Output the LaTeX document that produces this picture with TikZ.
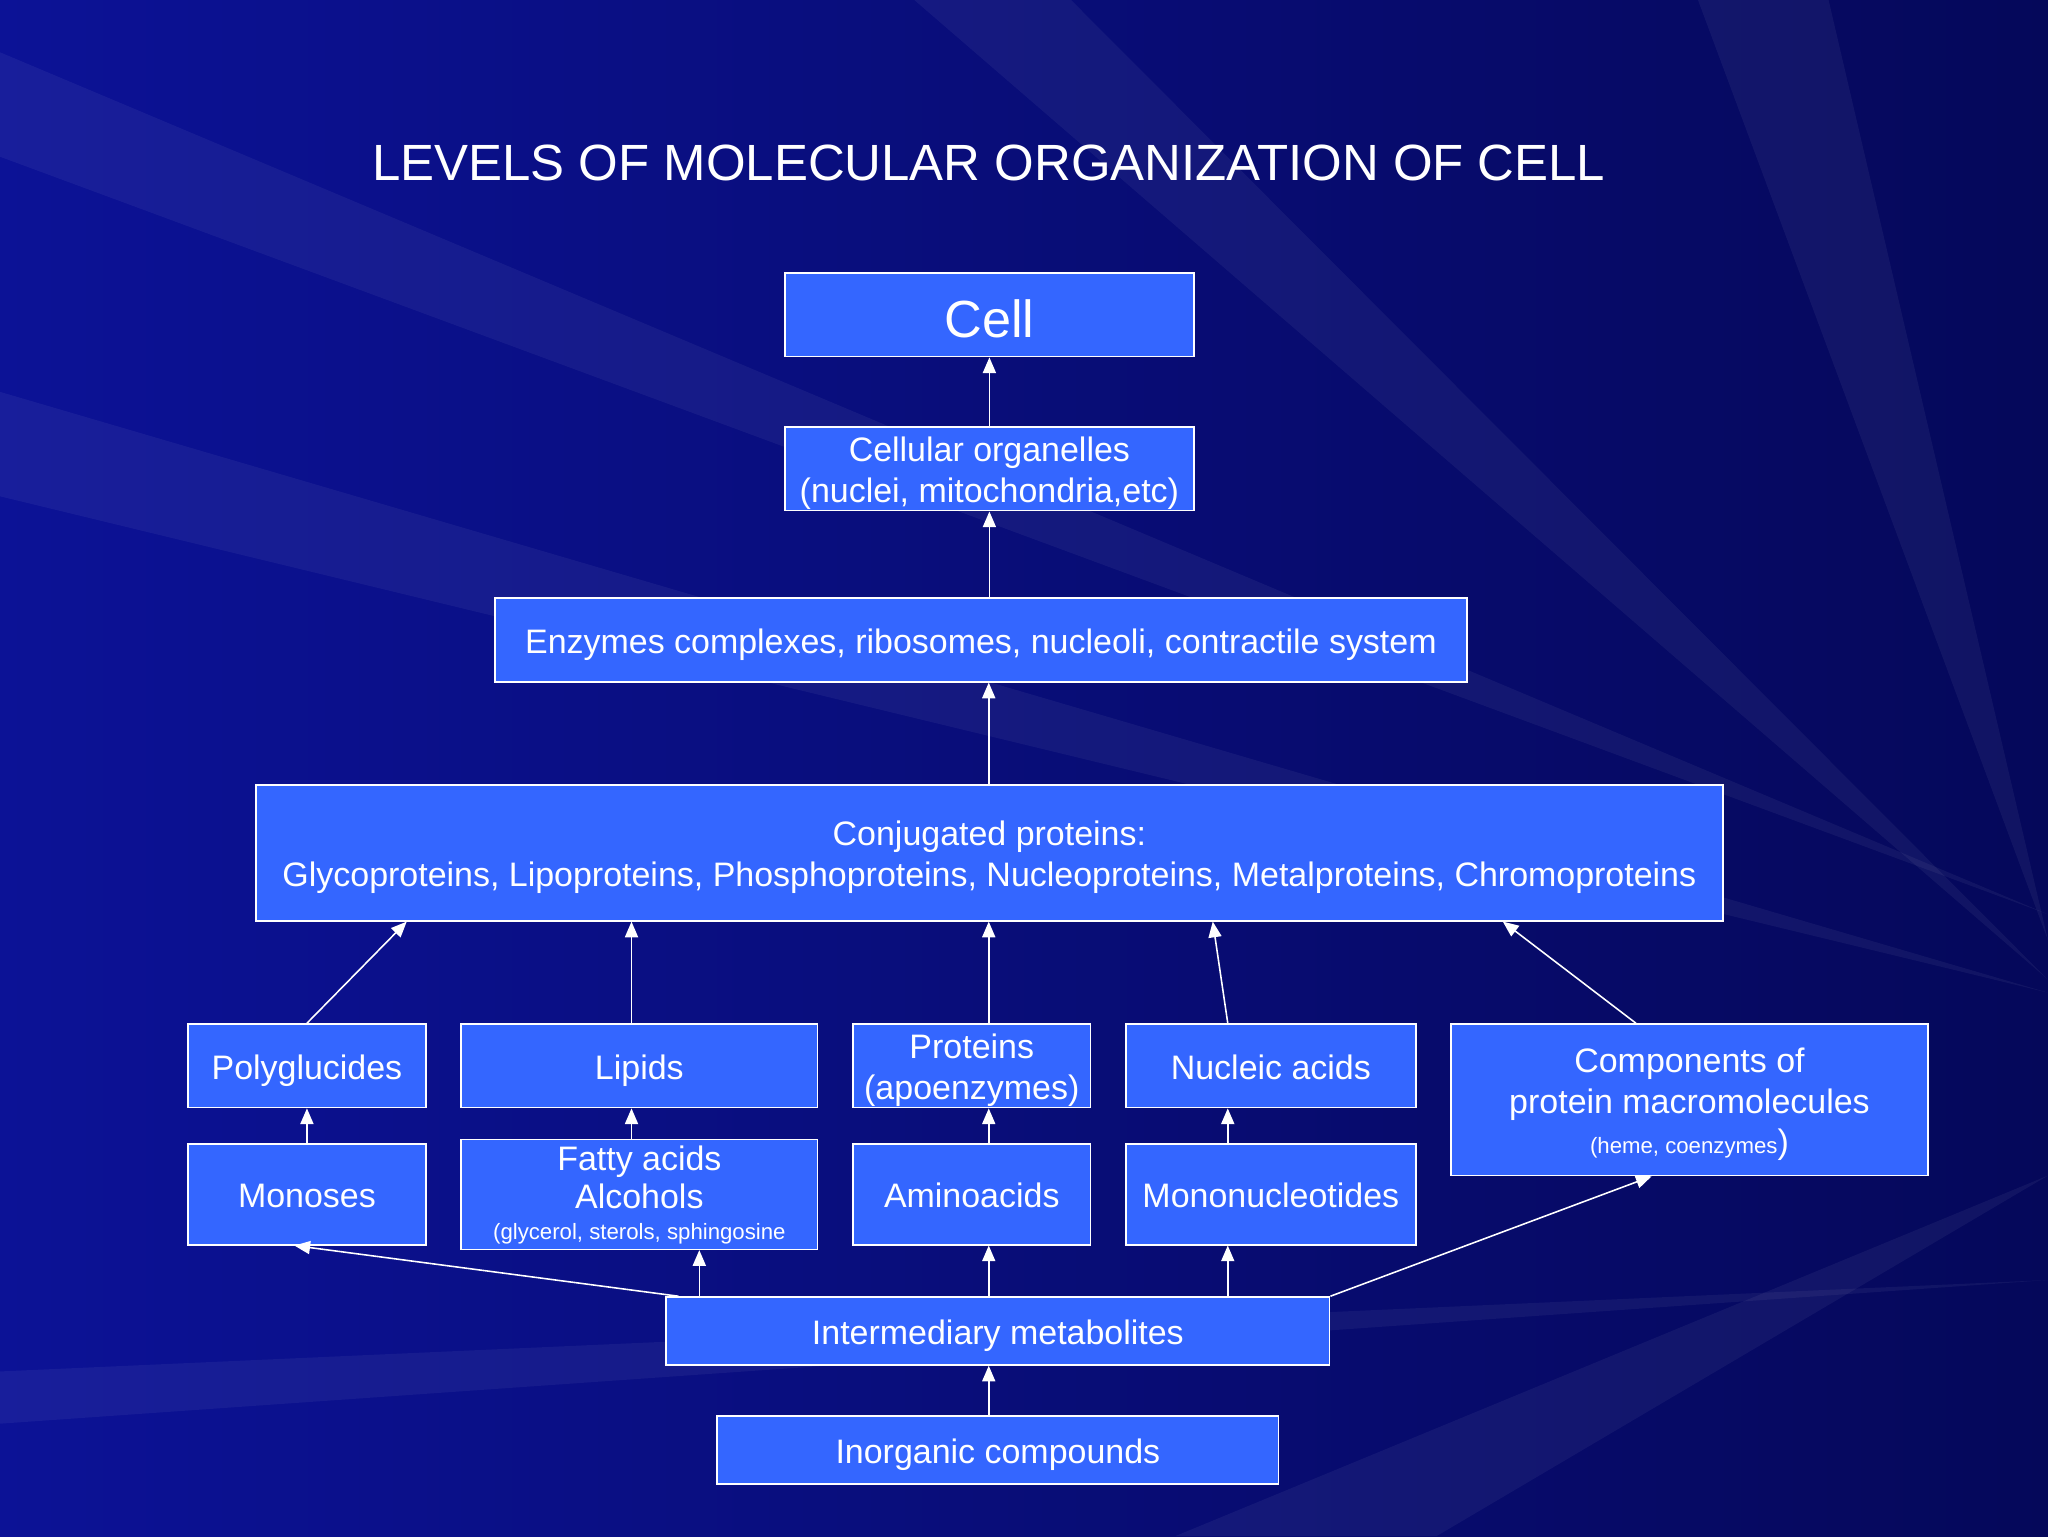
\documentclass[tikz,border=0pt]{standalone}
\usepackage{fontspec}
\setmainfont{Liberation Sans}
\usetikzlibrary{arrows.meta}
\definecolor{bg}{RGB}{12,18,150}
\definecolor{bgd}{RGB}{5,8,90}
\definecolor{boxc}{RGB}{52,102,255}
\begin{document}
\begin{tikzpicture}[x=1pt,y=-1pt,
 box/.style={draw=white,line width=1.2pt,fill=boxc,text=white,align=center,inner sep=0pt},
 arr/.style={draw=white,line width=1.2pt,-{Triangle[length=12pt,width=10pt]}}]
\useasboundingbox (0,0) rectangle (1568,1176);
\shade[left color=bg,right color=bgd] (0,0) rectangle (1568,1176);
\begin{scope}[opacity=0.05]
\fill[white] (1568,700) -- (0,40) -- (0,120) -- cycle;
\fill[white] (1568,760) -- (0,300) -- (0,380) -- cycle;
\fill[white] (1568,900) -- (900,1176) -- (1100,1176) -- cycle;
\fill[white] (1568,980) -- (0,1050) -- (0,1090) -- cycle;
\fill[white] (1568,720) -- (1300,0) -- (1400,0) -- cycle;
\fill[white] (1568,750) -- (700,0) -- (820,0) -- cycle;
\end{scope}
\node[text=white,font=\fontsize{39}{44}\selectfont] (title) at (757,125) {LEVELS OF MOLECULAR ORGANIZATION OF CELL};
\newcommand{\bx}[6]{\node[box,minimum width=#4-#3,minimum height=#6-#5,font=\fontsize{26}{31}\selectfont] (#1) at ({(#3+#4)/2},{(#5+#6)/2}) {\raisebox{-4pt}[\height][\depth]{\begin{tabular}{@{}c@{}}#2\end{tabular}}};}
\node[box,minimum width=313,minimum height=64,font=\fontsize{40}{46}\selectfont] (cell) at (757.5,241) {\raisebox{-3pt}[\height][\depth]{Cell}};
\bx{org}{Cellular organelles\\(nuclei, mitochondria,etc)}{601}{914}{327}{391}
\bx{enz}{Enzymes complexes, ribosomes, nucleoli, contractile system}{379}{1123}{458}{522}
\bx{conj}{Conjugated proteins:\\Glycoproteins, Lipoproteins, Phosphoproteins, Nucleoproteins, Metalproteins, Chromoproteins}{196}{1319}{601}{705}
\bx{poly}{Polyglucides}{144}{326}{784}{848}
\bx{lip}{Lipids}{353}{626}{784}{848}
\bx{prot}{Proteins\\(apoenzymes)}{653}{835}{784}{848}
\bx{nuc}{Nucleic acids}{862}{1084}{784}{848}
\bx{comp}{Components of\\protein macromolecules\\{\fontsize{17}{22}\selectfont (heme, coenzymes}{\fontsize{26}{22}\selectfont )}}{1111}{1476}{784}{900}
\node[box,minimum width=273,minimum height=77,font=\fontsize{26}{31}\selectfont] (fat) at (489.5,914.5) {\raisebox{-2pt}[\height][\depth]{\begin{tabular}{@{}c@{}}Fatty acids\\[-2pt]Alcohols\\[-7pt]{\fontsize{17}{17}\selectfont (glycerol, sterols, sphingosine}\end{tabular}}};
\bx{mon}{Monoses}{144}{326}{876}{953}
\bx{amino}{Aminoacids}{653}{835}{876}{953}
\bx{mono}{Mononucleotides}{862}{1084}{876}{953}
\bx{inter}{Intermediary metabolites}{510}{1018}{993}{1045}
\bx{inorg}{Inorganic compounds}{549}{979}{1084}{1136}
\draw[arr] ([xshift=-7pt]inorg.north) -- ([xshift=-7pt]inorg.north |- inter.south);
\draw[arr] ([xshift=10pt]inter.north west) -- ([xshift=82pt]mon.south west);
\draw[arr] ([xshift=26pt]inter.north west) -- ([xshift=26pt]inter.north west |- fat.south);
\draw[arr] ([xshift=13pt]amino.south |- inter.north) -- ([xshift=13pt]amino.south);
\draw[arr] ([xshift=-33pt]mono.south |- inter.north) -- ([xshift=-33pt]mono.south);
\draw[arr] (inter.north east) -- ([xshift=-29pt]comp.south);
\draw[arr] (mon.north) -- (poly.south);
\draw[arr] ([xshift=-6pt]fat.north) -- ([xshift=-6pt]lip.south);
\draw[arr] ([xshift=13pt]amino.north) -- ([xshift=13pt]prot.south);
\draw[arr] ([xshift=-33pt]mono.north) -- ([xshift=-33pt]nuc.south);
\draw[arr] (poly.north) -- ([xshift=116pt]conj.south west);
\draw[arr] ([xshift=-6pt]lip.north) -- ([xshift=-6pt]lip.north |- conj.south);
\draw[arr] ([xshift=13pt]prot.north) -- ([xshift=13pt]prot.north |- conj.south);
\draw[arr] ([xshift=-33pt]nuc.north) -- ([xshift=171pt]conj.south);
\draw[arr] ([xshift=-41pt]comp.north) -- ([xshift=-169pt]conj.south east);
\draw[arr] ([xshift=-0.5pt]conj.north) -- ([xshift=-0.5pt]conj.north |- enz.south);
\draw[arr] (org.south |- enz.north) -- (org.south);
\draw[arr] (org.north) -- (cell.south);
\end{tikzpicture}
\end{document}
